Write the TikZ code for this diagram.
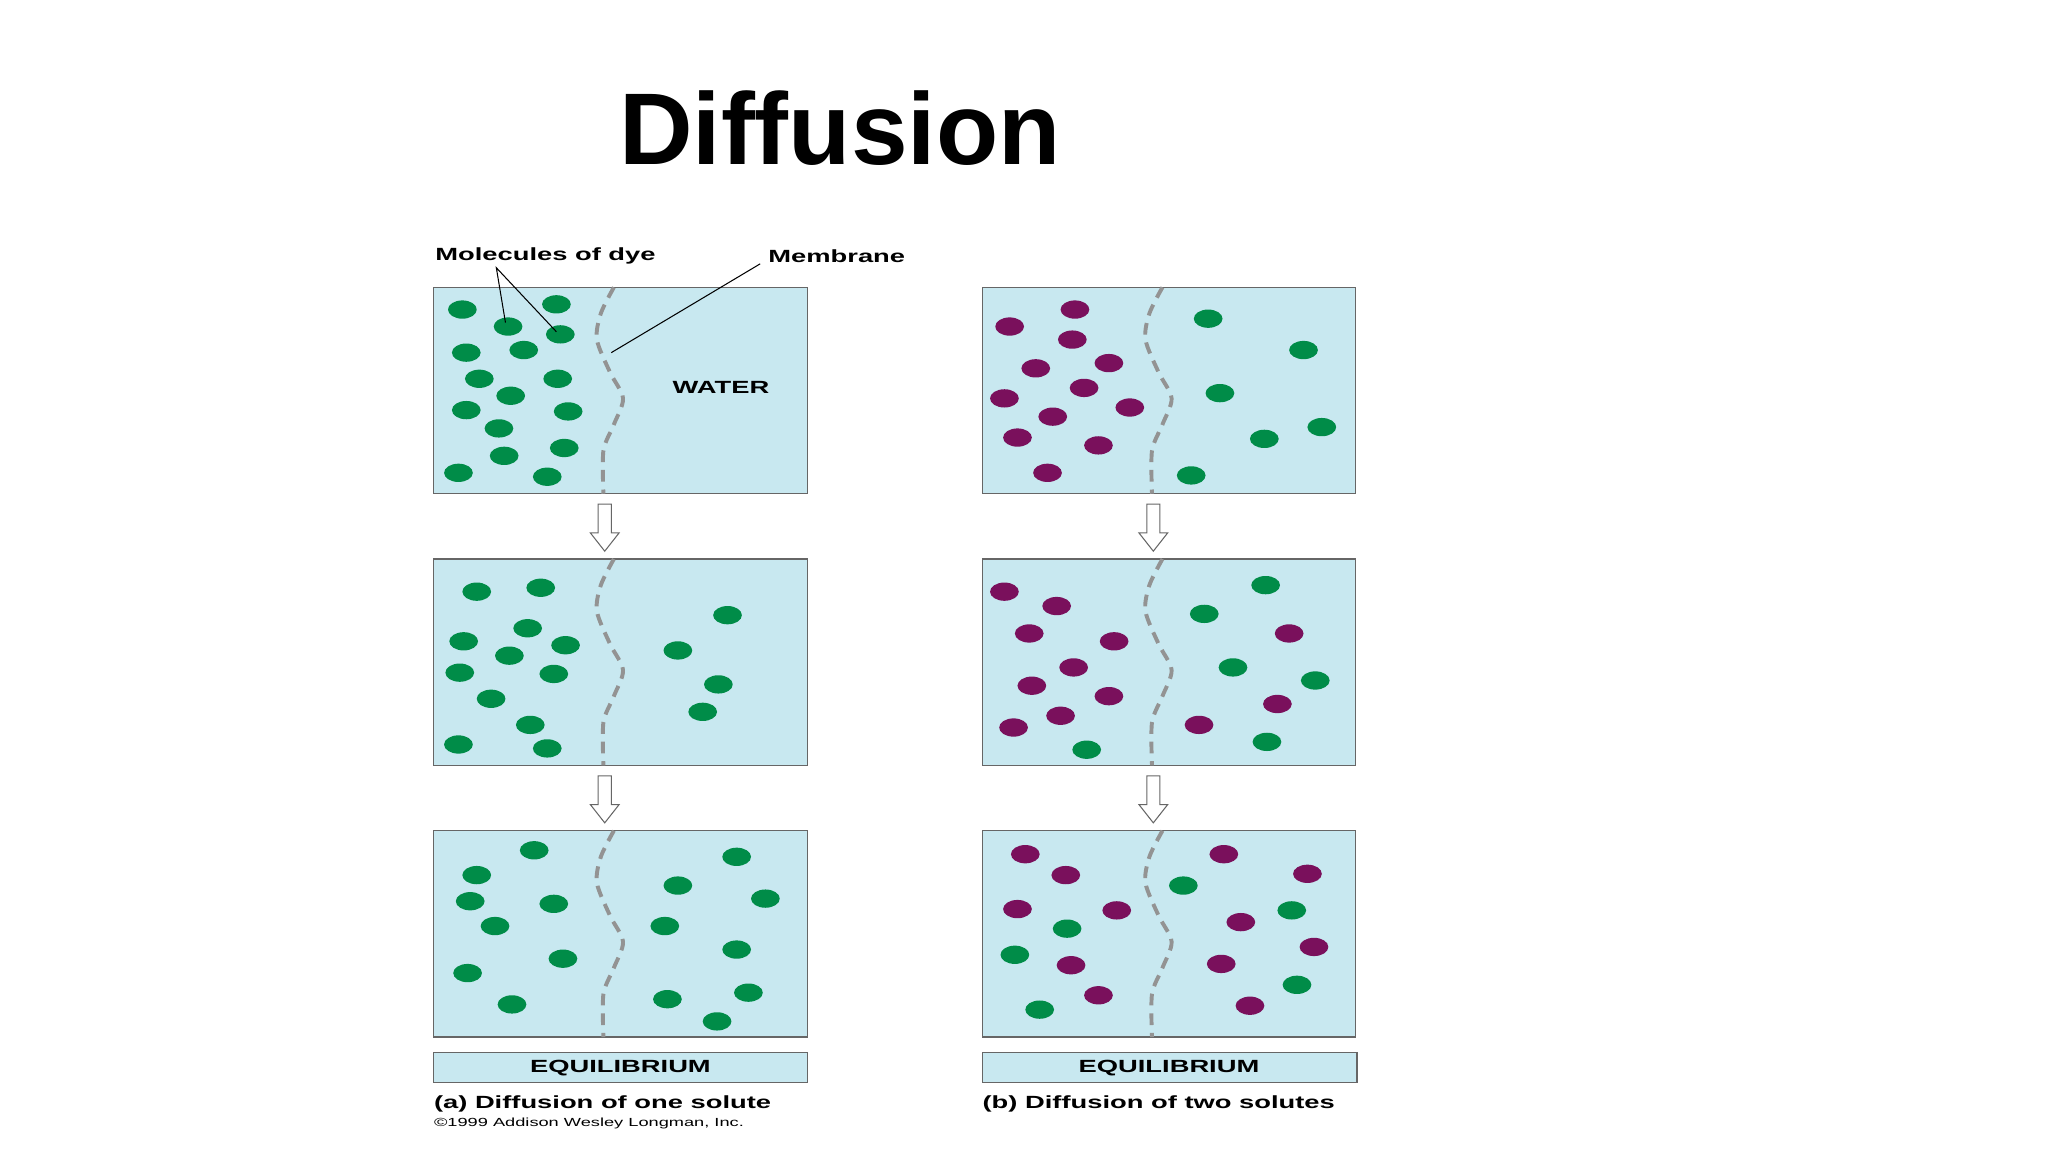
\documentclass[tikz,border=0pt]{standalone}
\usepackage{fontspec}
\setmainfont{Liberation Sans}
\begin{document}
\begin{tikzpicture}[x=1pt,y=-1pt]
\definecolor{panelblue}{RGB}{200,232,240}
\definecolor{dyegreen}{RGB}{0,140,72}
\definecolor{dyepurple}{RGB}{122,16,92}
\tikzset{panel/.style={draw=gray!80!black,line width=1pt,fill=panelblue},
 memb/.style={draw=gray!85,line width=3pt,dash pattern=on 9pt off 6pt},
 lbl/.style={font=\bfseries\fontsize{13.5}{16}\selectfont,inner sep=0pt,xscale=1.55},
 hollow/.style={draw=gray!80!black,fill=white,line width=0.8pt}}
\useasboundingbox (0,0) rectangle (1568,882);
\fill[white] (0,0) rectangle (1568,882);
\node[font=\bfseries\fontsize{78}{86}\selectfont] (title) at (643,98) {Diffusion};
% panels
\foreach \px/\py [count=\i] in {332/220,332/428,332/636,752/220,752/428,752/636}{
 \begin{scope}[shift={(\px,\py)}]
 \draw[panel] (0,0) rectangle (286,158);
 \draw[memb] plot[smooth] coordinates {(138,0)(128,20)(125,40)(135,65)(145,85)(138,105)(130,125)(130,158)};
 \end{scope}}
% arrows
\foreach \ax/\ay in {463/386,463/594,883/386,883/594}{
 \draw[hollow] (\ax-5,\ay) -- (\ax+5,\ay) -- (\ax+5,\ay+22) -- (\ax+11,\ay+22) -- (\ax,\ay+36) -- (\ax-11,\ay+22) -- (\ax-5,\ay+22) -- cycle;}
% green dots
\foreach \x/\y in {354/237,389/250,426/233,429/256,357/270,401/268,367/290,391/303,427/290,357/314,382/328,435/315,386/349,432/343,351/362,419/365,
365/453,414/450,404/481,355/491,390/502,433/494,352/515,424/516,376/535,406/555,351/570,419/573,557/471,519/498,550/524,538/545,
409/651,365/670,360/690,424/692,379/709,431/734,358/745,392/769,564/656,519/678,586/688,509/709,564/727,511/765,573/760,549/782,
925/244,998/268,934/301,968/336,1012/327,912/364,
969/448,922/470,944/511,1007/521,970/568,832/574,
906/678,989/697,817/711,777/731,993/754,796/773}
 \fill[dyegreen] (\x,\y) ellipse[x radius=11,y radius=7];
% purple dots
\foreach \x/\y in {773/250,823/237,821/260,793/282,849/278,830/297,769/305,806/319,865/312,779/335,841/341,802/362,
769/453,809/464,788/485,853/491,822/511,790/525,849/533,812/548,776/557,987/485,978/539,918/555,
785/654,816/670,779/696,855/697,820/739,841/762,937/654,1001/669,950/706,1006/725,935/738,957/770}
 \fill[dyepurple] (\x,\y) ellipse[x radius=11,y radius=7];
% labels
\node[lbl,anchor=west] (mol) at (333,196) {Molecules of dye};
\node[lbl,anchor=west] (mem) at (588,196) {Membrane};
\coordinate (m1) at (380,205);\coordinate (d1) at (387,247);\coordinate (d2) at (426,254);
\coordinate (m2) at (582,202);\coordinate (mp) at (468,270);
\draw[line width=0.8pt] (d1) -- (m1) -- (d2);
\draw[line width=0.8pt] (m2) -- (mp);
\node[lbl] (water) at (552,297) {WATER};
\draw[panel] (332,806) rectangle (618,829);
\draw[panel] (752,806) rectangle (1039,829);
\node[lbl] (eqa) at (475,817.5) {EQUILIBRIUM};
\node[lbl] (eqb) at (895,817.5) {EQUILIBRIUM};
\node[lbl,anchor=west] (capa) at (332,845) {(a) Diffusion of one solute};
\node[lbl,anchor=west] (capb) at (752,845) {(b) Diffusion of two solutes};
\node[anchor=west,inner sep=0pt,xscale=1.55,font=\fontsize{9}{10}\selectfont] (copy) at (332,860) {©1999 Addison Wesley Longman, Inc.};
\end{tikzpicture}
\end{document}
